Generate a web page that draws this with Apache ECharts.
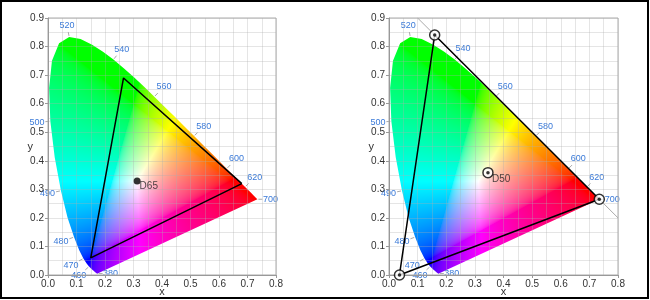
<!DOCTYPE html>
<html>
<head>
<meta charset="utf-8">
<script src="https://cdn.jsdelivr.net/npm/echarts@6/dist/echarts.min.js"></script>
<style>
  html, body { margin: 0; padding: 0; background: #fff; }
  #chart { width: 650px; height: 300px; }
</style>
</head>
<body>
<div id="chart"></div>
<script>
// CIE 1931 spectral locus, 5 nm steps
const wavelengths = [380, 385, 390, 395, 400, 405, 410, 415, 420, 425, 430, 435, 440, 445, 450, 455,
  460, 465, 470, 475, 480, 485, 490, 495, 500, 505, 510, 515, 520, 525, 530, 535, 540, 545, 550, 555,
  560, 565, 570, 575, 580, 585, 590, 595, 600, 605, 610, 615, 620, 625, 630, 635, 640, 645, 650, 655,
  660, 665, 670, 675, 680, 685, 690, 695, 700]
const locusX = [0.1741, 0.1740, 0.1738, 0.1736, 0.1733, 0.1730, 0.1726, 0.1721, 0.1714, 0.1703, 0.1689,
  0.1669, 0.1644, 0.1611, 0.1566, 0.1510, 0.1440, 0.1355, 0.1241, 0.1096, 0.0913, 0.0687, 0.0454, 0.0235,
  0.0082, 0.0039, 0.0139, 0.0389, 0.0743, 0.1142, 0.1547, 0.1929, 0.2296, 0.2658, 0.3016, 0.3373, 0.3731,
  0.4087, 0.4441, 0.4788, 0.5125, 0.5448, 0.5752, 0.6029, 0.6270, 0.6482, 0.6658, 0.6801, 0.6915, 0.7006,
  0.7079, 0.7140, 0.7190, 0.7230, 0.7260, 0.7283, 0.7300, 0.7311, 0.7320, 0.7327, 0.7334, 0.7340, 0.7344,
  0.7346, 0.7347]
const locusY = [0.0050, 0.0050, 0.0049, 0.0049, 0.0048, 0.0048, 0.0048, 0.0048, 0.0051, 0.0058, 0.0069,
  0.0086, 0.0109, 0.0138, 0.0177, 0.0227, 0.0297, 0.0399, 0.0578, 0.0868, 0.1327, 0.2007, 0.2950, 0.4127,
  0.5384, 0.6548, 0.7502, 0.8120, 0.8338, 0.8262, 0.8059, 0.7816, 0.7543, 0.7243, 0.6923, 0.6589, 0.6245,
  0.5896, 0.5547, 0.5202, 0.4866, 0.4544, 0.4242, 0.3965, 0.3725, 0.3514, 0.3340, 0.3197, 0.3083, 0.2993,
  0.2920, 0.2859, 0.2809, 0.2770, 0.2740, 0.2717, 0.2700, 0.2689, 0.2680, 0.2673, 0.2666, 0.2660, 0.2656,
  0.2654, 0.2653]
const labelWavelengths = [380, 460, 470, 480, 490, 500, 520, 540, 560, 580, 600, 620, 700]

// left: Display P3 gamut + D65
const p3X = [0.680, 0.265, 0.150]
const p3Y = [0.320, 0.690, 0.060]
const d65 = [0.3127, 0.3290]

// right: ProPhoto gamut + D50, and the x + y = 1 line
const proX = [0.7347, 0.1596, 0.0366]
const proY = [0.2653, 0.8404, 0.0001]
const d50 = [0.3457, 0.3585]
const edgeX = [0.1, 0.8]
const edgeY = [0.9, 0.2]

const chart = echarts.init(document.getElementById('chart'))
const fillCache = {}
const FONT = '"Liberation Sans", Arial, sans-serif'

function xyToRgb(x, y) {
  const X = x / y
  const Z = (1 - x - y) / y
  let r = 3.2406 * X - 1.5372 - 0.4986 * Z
  let g = -0.9689 * X + 1.8758 + 0.0415 * Z
  let b = 0.0557 * X - 0.2040 + 1.0570 * Z
  r = Math.max(r, 0)
  g = Math.max(g, 0)
  b = Math.max(b, 0)
  const m = Math.max(r, g, b) || 1
  return [r / m, g / m, b / m].map(function (c) {
    const v = c <= 0.0031308 ? 12.92 * c : 1.055 * Math.pow(c, 1 / 2.4) - 0.055
    return Math.round(v * 255)
  })
}

function makeFill(key, o, u) {
  if (fillCache[key]) return fillCache[key]
  const cv = document.createElement('canvas')
  cv.width = 650
  cv.height = 300
  const ctx = cv.getContext('2d')
  const img = ctx.createImageData(650, 300)
  const x0 = Math.floor(o[0]), x1 = Math.ceil(o[0] + (u[0] - o[0]) * 0.8)
  const y1 = Math.ceil(o[1]), y0 = Math.floor(o[1] + (u[1] - o[1]) * 0.9)
  for (let py = Math.max(0, y0); py <= Math.min(299, y1); py++) {
    for (let px = Math.max(0, x0); px <= Math.min(649, x1); px++) {
      const x = (px + 0.5 - o[0]) / (u[0] - o[0])
      const y = (py + 0.5 - o[1]) / (u[1] - o[1])
      if (y <= 0.0001) continue
      const c = xyToRgb(x, y)
      const k = (py * 650 + px) * 4
      img.data[k] = c[0]
      img.data[k + 1] = c[1]
      img.data[k + 2] = c[2]
      img.data[k + 3] = 255
    }
  }
  ctx.putImageData(img, 0, 0)
  fillCache[key] = cv
  return cv
}

function renderLocus(params, api) {
  const pts = locusX.map(function (x, i) { return api.coord([x, locusY[i]]) })
  const o = api.coord([0, 0])
  const u = api.coord([1, 1])
  const w = api.coord([1 / 3, 1 / 3])
  const children = [{
    type: 'polygon',
    shape: { points: pts },
    style: { fill: { image: makeFill(params.seriesIndex, o, u), repeat: 'no-repeat' }, stroke: null }
  }]
  labelWavelengths.forEach(function (wl) {
    const i = wavelengths.indexOf(wl)
    const p = pts[i]
    let nx = 1, ny = 0
    if (i > 0 && i < pts.length - 1) {
      const tx = pts[i + 1][0] - pts[i - 1][0]
      const ty = pts[i + 1][1] - pts[i - 1][1]
      const len = Math.hypot(tx, ty)
      nx = ty / len
      ny = -tx / len
      if ((p[0] - w[0]) * nx + (p[1] - w[1]) * ny < 0) { nx = -nx; ny = -ny }
    }
    children.push({
      type: 'line',
      shape: { x1: p[0] + nx, y1: p[1] + ny, x2: p[0] + nx * 5, y2: p[1] + ny * 5 },
      style: { stroke: '#aaa', lineWidth: 1 }
    })
    const d = 6 + Math.abs(nx) * 7 + Math.abs(ny) * 4
    children.push({
      type: 'text',
      x: p[0] + nx * d,
      y: p[1] + ny * d,
      style: {
        text: String(wl), fill: '#3a7ad8', font: '9px ' + FONT,
        align: 'center', verticalAlign: 'middle', textAlign: 'center', textVerticalAlign: 'middle'
      }
    })
  })
  return { type: 'group', children: children }
}

function pts(xs, ys, close) {
  const out = xs.map(function (x, i) { return [x, ys[i]] })
  if (close) out.push(out[0])
  return out
}

const gridLine = { lineStyle: { color: 'rgba(175,175,175,0.32)', width: 1 } }

function xAxis(gi) {
  return {
    gridIndex: gi, type: 'value', min: 0, max: 0.8, interval: 0.1,
    name: 'x', nameLocation: 'middle', nameGap: 11, nameMoveOverlap: false,
    nameTextStyle: { color: '#333', fontSize: 11, fontFamily: FONT },
    axisLine: { show: true, onZero: false, lineStyle: { color: '#999' } },
    axisTick: { show: true, length: 3, lineStyle: { color: '#999' } },
    axisLabel: { color: '#333', fontSize: 10, fontFamily: FONT, margin: 4, formatter: function (v) { return v.toFixed(1) } },
    splitLine: gridLine,
    minorTick: { show: false, splitNumber: 2 },
    minorSplitLine: Object.assign({ show: true }, gridLine)
  }
}

function yAxis(gi) {
  return {
    gridIndex: gi, type: 'value', min: 0, max: 0.9, interval: 0.1,
    name: 'y', nameLocation: 'middle', nameGap: 15, nameRotate: 0, nameMoveOverlap: false,
    nameTextStyle: { color: '#333', fontSize: 11, fontFamily: FONT },
    axisLine: { show: true, onZero: false, lineStyle: { color: '#999' } },
    axisTick: { show: true, length: 3, lineStyle: { color: '#999' } },
    axisLabel: { color: '#333', fontSize: 10, fontFamily: FONT, margin: 4, formatter: function (v) { return v.toFixed(1) } },
    splitLine: gridLine,
    minorTick: { show: false, splitNumber: 2 },
    minorSplitLine: Object.assign({ show: true }, gridLine)
  }
}

const ring = { color: '#fff', borderColor: '#000', borderWidth: 1.5 }

chart.setOption({
  animation: false,
  backgroundColor: '#fff',
  grid: [
    { left: 48, top: 18, width: 228, height: 257, show: true, borderColor: '#aaa', borderWidth: 1, containLabel: false, outerBoundsMode: 'none' },
    { left: 389, top: 18, width: 229, height: 257, show: true, borderColor: '#aaa', borderWidth: 1, containLabel: false, outerBoundsMode: 'none' }
  ],
  xAxis: [xAxis(0), xAxis(1)],
  yAxis: [yAxis(0), yAxis(1)],
  graphic: [{
    type: 'rect', z: 100, silent: true,
    shape: { x: 1, y: 1, width: 647, height: 297 },
    style: { fill: null, stroke: '#000', lineWidth: 2 }
  }],
  series: [
    { type: 'custom', xAxisIndex: 0, yAxisIndex: 0, z: -1, data: [[0.3, 0.3]], renderItem: renderLocus, silent: true },
    { type: 'custom', xAxisIndex: 1, yAxisIndex: 1, z: -1, data: [[0.3, 0.3]], renderItem: renderLocus, silent: true },
    {
      type: 'line', xAxisIndex: 0, yAxisIndex: 0, data: pts(p3X, p3Y, true), symbol: 'none',
      lineStyle: { color: '#000', width: 1.5 }, z: 3
    },
    {
      type: 'scatter', xAxisIndex: 0, yAxisIndex: 0, data: [d65], symbolSize: 7,
      itemStyle: { color: '#000' }, z: 4,
      label: { show: true, formatter: 'D65', position: [6, 4], color: '#222', fontSize: 10, fontFamily: FONT }
    },
    {
      type: 'line', xAxisIndex: 1, yAxisIndex: 1, data: pts(edgeX, edgeY, false), symbol: 'none',
      lineStyle: { color: '#aaa', width: 1 }, z: 2
    },
    {
      type: 'line', xAxisIndex: 1, yAxisIndex: 1, data: pts(proX, proY, true), symbol: 'none',
      lineStyle: { color: '#000', width: 1.5 }, z: 3
    },
    {
      type: 'scatter', xAxisIndex: 1, yAxisIndex: 1, data: pts(proX, proY, false).concat([d50]),
      symbolSize: 10, itemStyle: ring, z: 4
    },
    {
      type: 'scatter', xAxisIndex: 1, yAxisIndex: 1, data: pts(proX, proY, false).concat([d50]),
      symbolSize: 3.5, itemStyle: { color: '#000' }, z: 5
    },
    {
      type: 'scatter', xAxisIndex: 1, yAxisIndex: 1, data: [d50], symbolSize: 10,
      itemStyle: { color: 'transparent' }, z: 5,
      label: { show: true, formatter: 'D50', position: [9, 7], color: '#222', fontSize: 10, fontFamily: FONT }
    }
  ]
})
</script>
</body>
</html>
